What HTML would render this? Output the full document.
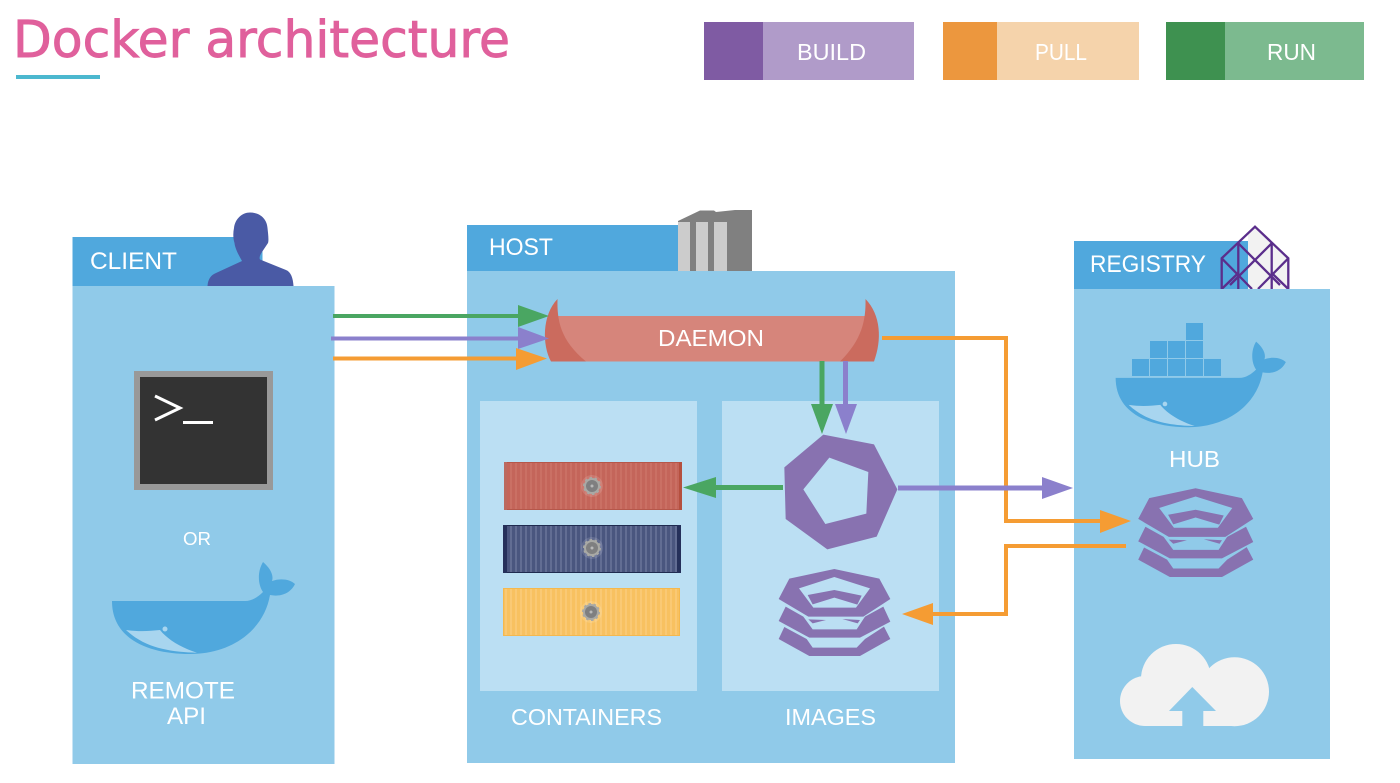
<!DOCTYPE html>
<html><head><meta charset="utf-8"><title>Docker architecture</title>
<style>html,body{margin:0;padding:0;background:#fff;width:1400px;height:783px;overflow:hidden}svg{display:block}text{font-family:"Liberation Sans",sans-serif;fill:#fff}</style></head>
<body>
<svg width="1400" height="783" viewBox="0 0 1400 783" xmlns="http://www.w3.org/2000/svg">
<defs>
<pattern id="rr" width="5" height="10" patternUnits="userSpaceOnUse"><rect width="5" height="10" fill="#c4655a"/><rect width="2" height="10" fill="#ca7064"/></pattern>
<pattern id="rn" width="5" height="10" patternUnits="userSpaceOnUse"><rect width="5" height="10" fill="#4a567f"/><rect width="2" height="10" fill="#626d93"/></pattern>
<pattern id="ry" width="5" height="10" patternUnits="userSpaceOnUse"><rect width="5" height="10" fill="#f8c160"/><rect width="2" height="10" fill="#fac974"/></pattern>
<g id="whale">
<path d="M112 601H245C252 601 258 597 263 592C258 585 257 572 263 562C270 568 274 575 272 581C280 578 290 579 295 584C290 594 280 597 270 595C264 630 232 654 190 654C150 654 112 640 112 601Z" fill="#50a8dd"/>
<path d="M126 630C140 632 150 631 160 630C168 640 182 648 197 652.700C170 652 145 648 126 630Z" fill="#a8d5ef"/>
<circle cx="165" cy="629" r="2.500" fill="#a8d5ef"/>
</g>
<g id="stack" fill="#8872b0">
<g transform="translate(740 420) scale(.33333)">
<path fill-rule="evenodd" d="M283 447L418 476L451 537L370 590H205L116 537L148 476ZM283 471L177 505L220 563H348L390 505Z"/>
<path d="M203 525L283 510L365 527L352 554L283 533L218 553Z"/>
<path d="M137 560L190 590L218 628H350L375 590L430 560L451 605L360 653H208L116 603Z"/>
<path d="M133 621L200 657L218 683H350L375 657L432 620L451 657L360 708H208L116 657Z"/>
<path d="M205 598L258 600L218 610ZM307 597L360 600L353 610Z"/>
</g>
</g>
<g id="gear"><circle r="11" fill="#fff" opacity=".13"/><circle r="8" fill="#a9a9a5" stroke="#a9a9a5" stroke-width="2" stroke-dasharray="2.500 2.500"/><circle r="6" fill="#7f7f80"/><circle r="1.500" fill="#b9b9b9"/></g>
</defs>

<!-- title -->
<text x="13" y="57" font-size="51" style="fill:#e0609c;stroke:#e0609c;stroke-width:.9;font-family:'DejaVu Sans',sans-serif" textLength="497" lengthAdjust="spacingAndGlyphs">Docker architecture</text>
<rect x="16" y="75" width="84" height="4" fill="#4cb8cf"/>

<!-- legend -->
<rect x="704" y="22" width="59" height="58" fill="#7f5ba3"/><rect x="763" y="22" width="151" height="58" fill="#b09bc9"/>
<text x="797" y="60" font-size="23" textLength="69" lengthAdjust="spacingAndGlyphs">BUILD</text>
<rect x="943" y="22" width="54" height="58" fill="#ec973e"/><rect x="997" y="22" width="142" height="58" fill="#f5d3ab"/>
<text x="1035" y="60" font-size="23" textLength="52" lengthAdjust="spacingAndGlyphs">PULL</text>
<rect x="1166" y="22" width="59" height="58" fill="#3e9150"/><rect x="1225" y="22" width="139" height="58" fill="#7cba8f"/>
<text x="1267" y="60" font-size="23" textLength="49" lengthAdjust="spacingAndGlyphs">RUN</text>

<!-- client -->
<rect x="72.500" y="237" width="190" height="49" fill="#50a8dd"/>
<rect x="72.500" y="286" width="262" height="478" fill="#90cae9"/>
<text x="90" y="269" font-size="24" textLength="87" lengthAdjust="spacingAndGlyphs">CLIENT</text>
<path d="M207.500 286C208 279 211 275 216 273L242 261C238 254 235 248 234.500 243C233 238 233 233 234 228C235 219 242 212.500 250 212.500C260 212.500 267 219 267.500 228C268 233 269 240 268 243C266 246 264 249 262 252C260 255 259 258 260 259.500L286 270C291 272 293 278 293.500 286Z" fill="#4a5aa5"/>
<rect x="134" y="371" width="139" height="119" fill="#999"/>
<rect x="140" y="377" width="127" height="107" fill="#333"/>
<polyline points="155,396 180,408 155,420" fill="none" stroke="#fff" stroke-width="3"/>
<rect x="183" y="421" width="30" height="3" fill="#fff"/>
<text x="183" y="545" font-size="18" textLength="28" lengthAdjust="spacingAndGlyphs">OR</text>
<use href="#whale"/>
<text x="131" y="698.500" font-size="24" textLength="104" lengthAdjust="spacingAndGlyphs">REMOTE</text>
<text x="167" y="724" font-size="24" textLength="39" lengthAdjust="spacingAndGlyphs">API</text>

<!-- host -->
<rect x="467" y="225" width="212" height="46" fill="#50a8dd"/>
<path d="M678 221L700 210.500H714L716 212L735 210H752V271H678Z" fill="#808080"/>
<rect x="678" y="222" width="12" height="49" fill="#ccc"/><rect x="696" y="222" width="12" height="49" fill="#ccc"/><rect x="714" y="222" width="13" height="49" fill="#ccc"/>
<rect x="467" y="271" width="488" height="492" fill="#90cae9"/>
<text x="489" y="255" font-size="24" textLength="64" lengthAdjust="spacingAndGlyphs">HOST</text>
<rect x="480" y="401" width="217" height="290" fill="#bbdff3"/>
<rect x="722" y="401" width="217" height="290" fill="#bbdff3"/>

<!-- daemon -->
<rect x="552" y="316" width="322" height="45.500" fill="#d6857b"/>
<path d="M557.500 299C557 320 560 340 586 361.500H551C542 345 542 315 557.500 299Z" fill="#cb6b5e"/>
<path d="M865.500 299C866 320 862 340 840 361.500H874C882 340 881 315 865.500 299Z" fill="#cb6b5e"/>
<text x="658" y="346" font-size="23" textLength="106" lengthAdjust="spacingAndGlyphs">DAEMON</text>

<!-- containers -->
<rect x="504.500" y="462.500" width="177" height="47" fill="url(#rr)" stroke="#b5574a" stroke-width="1"/>
<rect x="504" y="462" width="3" height="48" fill="#bb6a60"/><rect x="679" y="462" width="3" height="48" fill="#b5503f"/>
<rect x="503.500" y="525.500" width="177" height="47" fill="url(#rn)" stroke="#1f2b50" stroke-width="1"/>
<rect x="503" y="525" width="4" height="48" fill="#25305a"/><rect x="677" y="525" width="4" height="48" fill="#25305a"/>
<rect x="503.500" y="588.500" width="176" height="47" fill="url(#ry)" stroke="#f5b84e" stroke-width="1"/>
<use href="#gear" x="592" y="486"/><use href="#gear" x="592" y="548"/><use href="#gear" x="591" y="612"/>
<text x="511" y="725" font-size="23" textLength="151" lengthAdjust="spacingAndGlyphs">CONTAINERS</text>
<text x="785" y="725" font-size="23" textLength="91" lengthAdjust="spacingAndGlyphs">IMAGES</text>

<!-- image hexagon and stack -->
<g transform="translate(740 420) scale(.33333)"><path fill="#8872b0" fill-rule="evenodd" d="M250 44L402 73L472 208L410 350L262 388L137 297L133 142ZM268 113L190 208L256 312L379 281L385 156Z"/></g>
<use href="#stack"/>

<!-- registry -->
<rect x="1074" y="241" width="174" height="48" fill="#50a8dd"/>
<path d="M1248 233L1255 226.700L1288.300 258.300V289H1248Z" fill="#f2f2f2"/>
<g fill="none" stroke="#5b2e8c" stroke-width="2.300">
<path d="M1221.700 289V258.300L1255 226.700L1288.300 258.300V289"/>
<path d="M1238.300 289V243M1271.700 289V243"/>
<path d="M1221.700 258.300L1252 289M1288.300 258.300L1258 289M1238.300 243.300L1280 285M1271.700 243.300L1230 285M1221.700 289L1238.300 273M1288.300 289L1271.700 273"/>
</g>
<rect x="1074" y="289" width="256" height="470" fill="#90cae9"/>
<text x="1090" y="272" font-size="24" textLength="116" lengthAdjust="spacingAndGlyphs">REGISTRY</text>
<g fill="#50a8dd">
<rect x="1186" y="323" width="17" height="17"/>
<rect x="1150" y="341" width="17" height="17"/><rect x="1168" y="341" width="17" height="17"/><rect x="1186" y="341" width="17" height="17"/>
<rect x="1132" y="359" width="17" height="17"/><rect x="1150" y="359" width="17" height="17"/><rect x="1168" y="359" width="17" height="17"/><rect x="1186" y="359" width="17" height="17"/><rect x="1204" y="359" width="17" height="17"/>
</g>
<use href="#whale" transform="translate(1011.500 -181) scale(.93)"/>
<text x="1169" y="467" font-size="23" textLength="51" lengthAdjust="spacingAndGlyphs">HUB</text>
<use href="#stack" transform="translate(336.200 -92.100) scale(1.03 1.02)"/>
<g fill="#f2f2f2">
<circle cx="1176" cy="679" r="35"/><circle cx="1234.500" cy="691.700" r="34.500"/><circle cx="1145" cy="701" r="25"/><rect x="1145" y="690" width="90" height="36"/>
</g>
<path d="M1192.300 687L1216 711H1203.300V726H1182.300V711H1169Z" fill="#90cae9"/>

<!-- connectors -->
<g fill="none" stroke-width="4">
<path d="M333 316H520" stroke="#4aa662"/>
<path d="M331 338.500H520" stroke="#8b80cc"/>
<path d="M333 358.500H520" stroke="#f59c33"/>
<path d="M882 338H1006V521H1102" stroke="#f59c33"/>
<path d="M1126 546H1006V614H932" stroke="#f59c33"/>
<path d="M822 361V406" stroke="#4aa662" stroke-width="5"/>
<path d="M845.500 361V406" stroke="#8b80cc" stroke-width="5"/>
<path d="M783 487.500H714" stroke="#4aa662" stroke-width="5"/>
<path d="M898 488H1044" stroke="#8b80cc" stroke-width="5"/>
</g>
<path d="M518 305L549 316L518 327Z" fill="#4aa662"/>
<path d="M518 327L549 338.500L518 349Z" fill="#8b80cc"/>
<path d="M516 348L547 358.500L516 370Z" fill="#f59c33"/>
<path d="M811 404H833L822 434Z" fill="#4aa662"/>
<path d="M835 404H857L846 434Z" fill="#8b80cc"/>
<path d="M716 477V498L683 487.500Z" fill="#4aa662"/>
<path d="M1042 477V499L1073 488Z" fill="#8b80cc"/>
<path d="M1100 510L1131 521L1100 533Z" fill="#f59c33"/>
<path d="M933 603V625L902 614Z" fill="#f59c33"/>
</svg>
</body></html>
